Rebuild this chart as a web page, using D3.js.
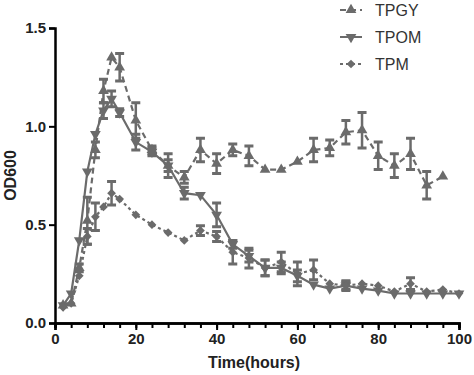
<!DOCTYPE html>
<html>
<head>
<meta charset="utf-8">
<script src="https://cdn.jsdelivr.net/npm/d3@7"></script>
<style>
  body { margin: 0; background: #fff; }
  svg { display: block; font-family: "Liberation Sans", Arial, sans-serif; }
</style>
</head>
<body>
<div id="chart"></div>
<script>
// sampling times (hours)
var times = [2, 4, 6, 8, 10, 12, 14, 16, 20, 24, 28, 32, 36, 40, 44, 48, 52, 56, 60, 64, 68, 72, 76, 80, 84, 88, 92, 96, 100];

var tpgy    = [0.09, 0.10, 0.28, 0.52, 0.88, 1.18, 1.35, 1.30, 1.03, 0.88, 0.80, 0.74, 0.88, 0.81, 0.88, 0.85, 0.78, 0.78, 0.82, 0.88, 0.89, 0.97, 0.98, 0.85, 0.80, 0.86, 0.70, 0.745, null];
var tpgyErr = [0, 0, 0.02, 0.12, 0.04, 0.06, 0, 0.07, 0.09, 0.02, 0.06, 0.03, 0.06, 0.05, 0.03, 0.05, 0, 0, 0, 0.06, 0.04, 0.06, 0.09, 0.07, 0.06, 0.08, 0.07, 0, null];

var tpom    = [0.09, 0.15, 0.42, 0.77, 0.96, 1.08, 1.14, 1.07, 0.92, 0.87, 0.80, 0.66, 0.65, 0.55, 0.40, 0.34, 0.28, 0.28, 0.24, 0.195, 0.175, 0.19, 0.175, 0.165, 0.15, 0.15, 0.15, 0.15, 0.15];
var tpomErr = [0, 0, 0, 0, 0, 0.04, 0.04, 0.02, 0.04, 0.02, 0.03, 0.03, 0, 0.06, 0.02, 0.03, 0.04, 0.03, 0.03, 0, 0, 0.02, 0, 0, 0, 0, 0, 0, 0];

var tpm     = [0.08, 0.10, 0.24, 0.44, 0.54, 0.59, 0.66, 0.63, 0.55, 0.50, 0.46, 0.42, 0.47, 0.44, 0.36, 0.33, 0.28, 0.31, 0.25, 0.27, 0.20, 0.19, 0.20, 0.19, 0.16, 0.20, 0.16, 0.17, 0.15];
var tpmErr  = [0, 0, 0, 0.04, 0.07, 0, 0.06, 0, 0, 0, 0, 0, 0.025, 0.025, 0.06, 0.05, 0.04, 0.05, 0.06, 0.05, 0, 0.025, 0, 0, 0, 0.03, 0, 0, 0];

var seriesNames = ["TPGY", "TPOM", "TPM"];
var xTicks = [0, 20, 40, 60, 80, 100];
var yTicks = [0, 0.5, 1.0, 1.5];

var width = 474, height = 375;
var margin = {top: 28, right: 15, bottom: 52, left: 55};
var w = width - margin.left - margin.right;
var h = height - margin.top - margin.bottom;
var grey = "#6b6b6b";

var svg = d3.select("#chart").append("svg")
    .attr("width", width)
    .attr("height", height);
var g = svg.append("g")
    .attr("transform", "translate(" + margin.left + "," + margin.top + ")");

var x = d3.scaleLinear().domain([0, 100]).range([0, w]);
var y = d3.scaleLinear().domain([0, 1.5]).range([h, 0]);

// marker: triangle up / triangle down / square turned 45deg (diamond)
var series = [
    {name: seriesNames[0], vals: tpgy, err: tpgyErr, dash: "6,4", marker: d3.symbolTriangle, size: 50, rot: 0},
    {name: seriesNames[1], vals: tpom, err: tpomErr, dash: null, marker: d3.symbolTriangle, size: 50, rot: 180},
    {name: seriesNames[2], vals: tpm, err: tpmErr, dash: "3,3", marker: d3.symbolSquare, size: 38, rot: 45}
];

var line = d3.line()
    .defined(function(d) { return d.v != null; })
    .x(function(d) { return x(d.t); })
    .y(function(d) { return y(d.v); });

series.forEach(function(s) {
    var pts = times.map(function(t, i) { return {t: t, v: s.vals[i], e: s.err[i]}; });
    var sg = g.append("g");

    sg.append("path")
        .datum(pts)
        .attr("fill", "none")
        .attr("stroke", grey)
        .attr("stroke-width", 2.2)
        .attr("stroke-dasharray", s.dash)
        .attr("d", line);

    // error bars
    var eb = pts.filter(function(d) { return d.v != null && d.e > 0; });
    sg.selectAll(".eb").data(eb).enter().append("path")
        .attr("fill", "none")
        .attr("stroke", grey)
        .attr("stroke-width", 2.5)
        .attr("d", function(d) {
            var cx = x(d.t), y1 = y(d.v + d.e), y2 = y(d.v - d.e);
            return "M" + cx + "," + y1 + "V" + y2;
        });
    sg.selectAll(".cap").data(eb).enter().append("path")
        .attr("fill", "none")
        .attr("stroke", grey)
        .attr("stroke-width", 3)
        .attr("d", function(d) {
            var cx = x(d.t), y1 = y(d.v + d.e), y2 = y(d.v - d.e);
            return "M" + (cx - 4.5) + "," + y1 + "H" + (cx + 4.5) +
                   "M" + (cx - 4.5) + "," + y2 + "H" + (cx + 4.5);
        });

    sg.selectAll(".mk").data(pts.filter(function(d) { return d.v != null; })).enter().append("path")
        .attr("fill", grey)
        .attr("d", d3.symbol().type(s.marker).size(s.size))
        .attr("transform", function(d) {
            return "translate(" + x(d.t) + "," + y(d.v) + ") rotate(" + s.rot + ")";
        });
});

// axes
var xAxis = g.append("g")
    .attr("transform", "translate(0," + h + ")")
    .call(d3.axisBottom(x).tickValues(d3.range(0, 101, 4)).tickSize(5).tickFormat(""));
var xMajor = g.append("g")
    .attr("transform", "translate(0," + h + ")")
    .call(d3.axisBottom(x).tickValues(xTicks).tickSize(7).tickPadding(3));
[xAxis, xMajor].forEach(function(a) {
    a.select(".domain").attr("stroke-width", 2.5);
    a.selectAll(".tick line").attr("stroke-width", 2);
});
xMajor.selectAll("text")
    .attr("font-size", 15).attr("font-weight", "bold").attr("fill", "#222")
    .attr("font-family", "Liberation Sans, Arial, sans-serif");

var yAxis = g.append("g")
    .call(d3.axisLeft(y).tickValues(yTicks).tickSize(6).tickPadding(3).tickFormat(d3.format(".1f")));
yAxis.select(".domain").attr("stroke-width", 2.5);
yAxis.selectAll(".tick line").attr("stroke-width", 2);
yAxis.selectAll("text")
    .attr("font-size", 15).attr("font-weight", "bold").attr("fill", "#222")
    .attr("font-family", "Liberation Sans, Arial, sans-serif");

// axis titles
svg.append("text")
    .attr("x", margin.left + x(50) - 3)
    .attr("y", 368)
    .attr("text-anchor", "middle")
    .attr("font-size", 16).attr("font-weight", "bold").attr("fill", "#222")
    .text("Time(hours)");
svg.append("text")
    .attr("transform", "translate(16," + (margin.top + y(0.75)) + ") rotate(-90)")
    .attr("text-anchor", "middle")
    .attr("font-size", 16).attr("font-weight", "bold").attr("fill", "#222")
    .text("OD600");

// legend
var legend = svg.append("g").attr("transform", "translate(340,10)");
series.forEach(function(s, i) {
    var ly = i * 27;
    legend.append("line")
        .attr("x1", 0).attr("x2", 22).attr("y1", ly).attr("y2", ly)
        .attr("stroke", grey).attr("stroke-width", 2)
        .attr("stroke-dasharray", s.dash);
    legend.append("path")
        .attr("fill", grey)
        .attr("d", d3.symbol().type(s.marker).size(s.size))
        .attr("transform", "translate(11," + ly + ") rotate(" + s.rot + ")");
    legend.append("text")
        .attr("x", 35).attr("y", ly)
        .attr("dy", "0.35em")
        .attr("font-size", 16).attr("fill", "#333")
        .text(s.name);
});
</script>
</body>
</html>
